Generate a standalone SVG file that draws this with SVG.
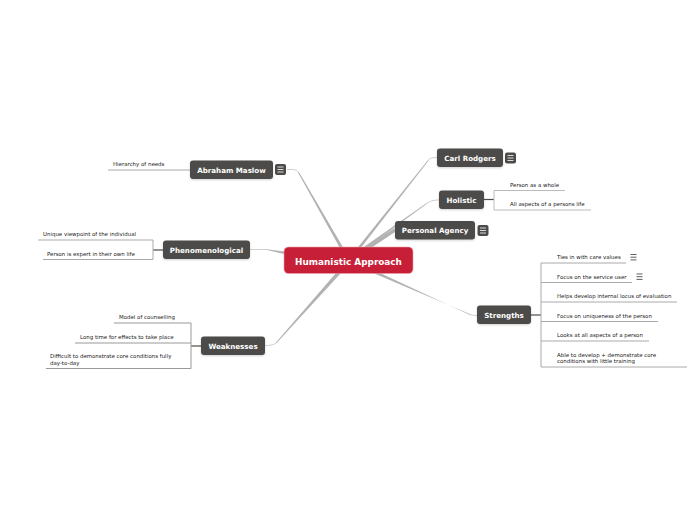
<svg xmlns="http://www.w3.org/2000/svg" width="697" height="520" viewBox="0 0 697 520">
<style>
.n{fill:#4d4b49;filter:url(#s)}
.t{font-family:"DejaVu Sans",Verdana,sans-serif;font-weight:bold;font-size:7.1px;fill:#fff;text-anchor:middle}
.l{font-family:"DejaVu Sans",Verdana,sans-serif;font-size:5.45px;fill:#222}
.b{fill:#b2b2b2;stroke:none}
.c{fill:none;stroke:#c4c4c4;stroke-width:.8}
.u{fill:none;stroke:#aaa;stroke-width:1}
.d{fill:none;stroke:#4d4b49;stroke-width:1.2}
.i{fill:#4d4b49}
.h{stroke:#fff;stroke-width:.8}
.k{stroke:#333;stroke-width:.8}
</style>
<defs>
<filter id="s" x="-10%" y="-20%" width="120%" height="150%"><feDropShadow dx="0" dy="1" stdDeviation="1" flood-color="#000" flood-opacity=".18"/></filter>
<g id="m"><rect x="0" y="0" width="11" height="11" rx="2" class="i"/><path class="h" d="M2.500 3H8.500M2.500 5.500H8.500M2.500 8H8.500"/></g>
<g id="q"><path class="k" d="M0 0H6M0 2.700H6M0 5.400H6"/></g>
</defs>
<g id="connectors">
<path class="b" d="M340.500 249L344 249L298.800 171.800L298 172.400Z"/>
<path class="c" d="M287 169.500H293Q296 169.500 298.300 172.200"/>
<path class="b" d="M356.500 249L360 249L428.700 160.500L428 160Z"/>
<path class="c" d="M428.200 160.200Q430.500 157.500 437 157.500"/>
<path class="b" d="M361 249L365 249L427.200 203.600L426.600 203Z"/>
<path class="c" d="M426.800 203.200Q431 199.800 439 199.800"/>
<path class="b" d="M363 249L368 250L395 232L394.500 228Z"/>
<path class="b" d="M284 254L284 251.500L267 249.200L267 249.900Z"/>
<path class="c" d="M250 249.500H267"/>
<path class="b" d="M372 272.500L379 272.500L470 315L470.400 314.200Z"/>
<path class="c" d="M470 314.600Q473 315.500 477 315.500"/>
<path class="b" d="M336 273L341 273L276.200 343.600L275.500 343Z"/>
<path class="c" d="M275.800 343.200Q273.500 345.500 265 345.500"/>
<path class="d" d="M484 199.500H494"/>
<path class="u" d="M494 190.500V210M494 190.500H565M494 210H591" style="stroke:#bbb"/>
<path class="u" d="M190 170H108"/>
<path class="d" d="M163 250H153"/>
<path class="u" d="M153 240V259.500M153 240H38M153 259.500H43"/>
<path class="d" d="M201 346H191"/>
<path class="u" d="M191 323V368.500M191 323H114M191 343H75M191 368.500H46" style="stroke:#999"/>
<path class="d" d="M531 315H541"/>
<path class="u" d="M541 263V367M541 263H626M541 282.500H632M541 302H677M541 321.500H658M541 341H649M541 367H687"/>
</g>
<g id="center"><rect x="284" y="247" width="129" height="26.500" rx="4.500" fill="#c71f37" stroke="#e8a0aa" stroke-width=".6"/><text class="t" x="348.500" y="264.500" style="font-size:8.900px">Humanistic Approach</text></g>
<g id="abraham"><rect class="n" x="190" y="160.500" width="83" height="18.500" rx="3"/><text class="t" x="231.500" y="173">Abraham Maslow</text><use href="#m" x="275" y="164"/></g>
<g id="carl"><rect class="n" x="437" y="148.500" width="66" height="18.500" rx="3"/><text class="t" x="470" y="161">Carl Rodgers</text><use href="#m" x="505" y="152.500"/></g>
<g id="holistic"><rect class="n" x="439" y="190.500" width="45" height="18.500" rx="3"/><text class="t" x="461.500" y="203">Holistic</text></g>
<g id="agency"><rect class="n" x="395" y="221" width="80" height="18.500" rx="3"/><text class="t" x="435" y="233">Personal Agency</text><use href="#m" x="477.500" y="225"/></g>
<g id="phenom"><rect class="n" x="163" y="240.500" width="87" height="18.500" rx="3"/><text class="t" x="206.500" y="253">Phenomenological</text></g>
<g id="weak"><rect class="n" x="201" y="336.500" width="64" height="18.500" rx="3"/><text class="t" x="233" y="349">Weaknesses</text></g>
<g id="strengths"><rect class="n" x="477" y="305.500" width="54" height="18.500" rx="3"/><text class="t" x="504" y="318">Strengths</text></g>
<g id="leaves">
<text class="l" x="510" y="187">Person as a whole</text>
<text class="l" x="510" y="206">All aspects of a persons life</text>
<text class="l" x="113" y="166">Hierarchy of needs</text>
<text class="l" x="43" y="236">Unique viewpoint of the individual</text>
<text class="l" x="47" y="256">Person is expert in their own life</text>
<text class="l" x="119" y="319">Model of counselling</text>
<text class="l" x="80" y="339">Long time for effects to take place</text>
<text class="l" x="50" y="358">Difficult to demonstrate core conditions fully</text>
<text class="l" x="50" y="365">day-to-day</text>
<text class="l" x="557" y="259">Ties in with care values</text><use href="#q" x="630.500" y="254.500"/>
<text class="l" x="557" y="279">Focus on the service user</text><use href="#q" x="636.500" y="274"/>
<text class="l" x="557" y="298">Helps develop internal locus of evaluation</text>
<text class="l" x="557" y="318">Focus on uniqueness of the person</text>
<text class="l" x="557" y="337">Looks at all aspects of a person</text>
<text class="l" x="557" y="357">Able to develop + demonstrate core</text>
<text class="l" x="557" y="363">conditions with little training</text>
</g>
</svg>
